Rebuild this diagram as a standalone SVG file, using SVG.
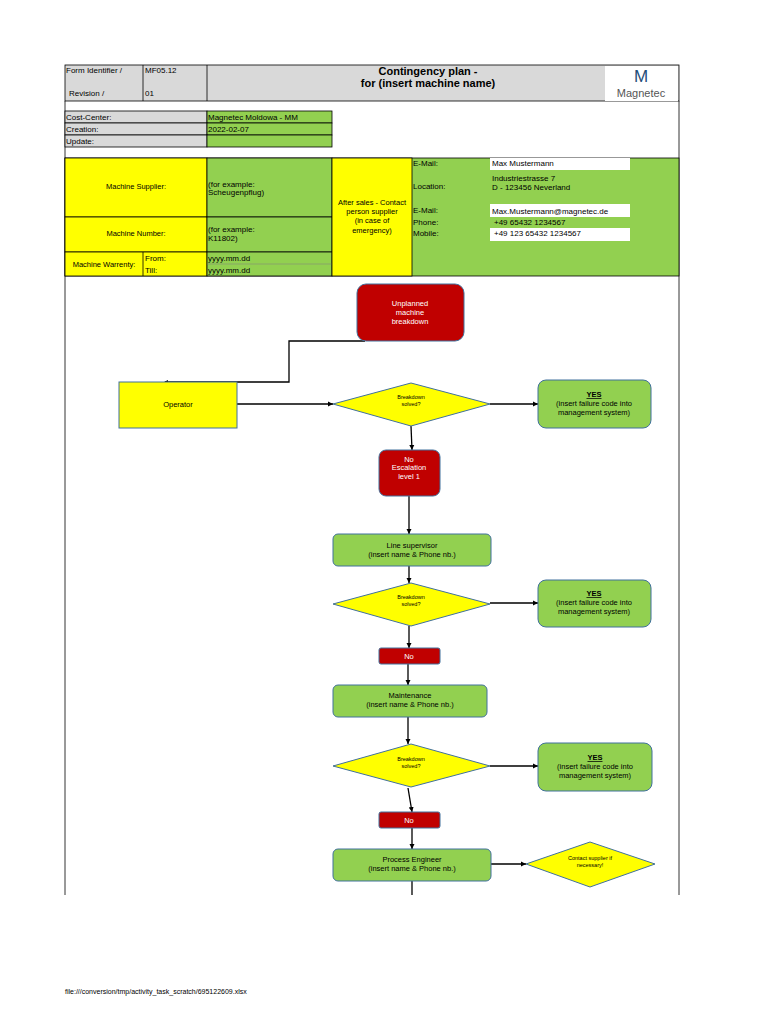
<svg xmlns="http://www.w3.org/2000/svg" width="768" height="1024" viewBox="0 0 768 1024">
<style>
text{font-family:"Liberation Sans",Arial,sans-serif;fill:#000}
.t{font-size:8px}
.s{font-size:5.5px}
.m{font-size:7.5px;text-anchor:middle}
.w{fill:#fff}
.cell{stroke:#000;stroke-width:0.8}
.g{fill:#92d050}.y{fill:#ffff00}.gr{fill:#d9d9d9}
.node{stroke:#41719c;stroke-width:1}
.red{fill:#c00000}
.c{stroke:#000;stroke-width:1.3;fill:none}
</style>
<defs><marker id="a" markerWidth="6" markerHeight="6" refX="5" refY="3" orient="auto" markerUnits="userSpaceOnUse"><path d="M0,0.5 L5,3 L0,5.5 z" fill="#000"/></marker></defs>
<rect width="768" height="1024" fill="#fff"/>
<g id="header">
<rect x="65" y="65" width="614" height="36" class="gr cell"/>
<line x1="143" y1="65" x2="143" y2="101" class="cell"/>
<line x1="207" y1="65" x2="207" y2="101" class="cell"/>
<rect x="605" y="66" width="73" height="35" fill="#fff"/>
<text x="66" y="73" class="t">Form Identifier /</text>
<text x="69" y="96" class="t">Revision  /</text>
<text x="145" y="73" class="t">MF05.12</text>
<text x="145" y="96" class="t">01</text>
<text x="428" y="75" text-anchor="middle" style="font-size:11px;font-weight:bold">Contingency plan -</text>
<text x="428" y="87" text-anchor="middle" style="font-size:11px;font-weight:bold">for (insert machine name)</text>
<text x="641" y="82" text-anchor="middle" style="font-size:17px;fill:#1f4e79">M</text>
<text x="641" y="97" text-anchor="middle" style="font-size:11px;fill:#555">Magnetec</text>
</g>
<line x1="65" y1="101" x2="65" y2="895" class="cell"/>
<line x1="679" y1="101" x2="679" y2="895" class="cell"/>
<g id="costtable">
<rect x="65" y="111" width="142" height="12" class="gr cell"/><rect x="207" y="111" width="125" height="12" class="g cell"/>
<rect x="65" y="123" width="142" height="12" class="gr cell"/><rect x="207" y="123" width="125" height="12" class="g cell"/>
<rect x="65" y="135" width="142" height="12" class="gr cell"/><rect x="207" y="135" width="125" height="12" class="g cell"/>
<text x="66" y="120" class="t">Cost-Center:</text><text x="208" y="120" class="t">Magnetec Moldowa - MM</text>
<text x="66" y="132" class="t">Creation:</text><text x="208" y="132" class="t">2022-02-07</text>
<text x="66" y="144" class="t">Update:</text>
</g>
<g id="supplier">
<rect x="65" y="158" width="614" height="118" class="g cell"/>
<rect x="65" y="158" width="142" height="59" class="y cell"/>
<rect x="65" y="217" width="142" height="35" class="y cell"/>
<rect x="65" y="252" width="142" height="24" class="y cell"/>
<line x1="143" y1="252" x2="143" y2="276" class="cell"/>
<rect x="207" y="158" width="125" height="59" class="g cell"/>
<rect x="207" y="217" width="125" height="35" class="g cell"/>
<rect x="207" y="252" width="125" height="24" class="g cell"/>
<line x1="207" y1="264" x2="332" y2="264" stroke="#7f7f7f" stroke-width="0.5"/>
<rect x="332" y="158" width="80" height="118" class="y cell"/>
<rect x="490" y="158" width="140" height="12" fill="#fff"/>
<rect x="490" y="204" width="140" height="13" fill="#fff"/>
<rect x="490" y="228" width="140" height="13" fill="#fff"/>
<text x="136" y="189" class="m">Machine Supplier:</text>
<text x="136" y="236" class="m">Machine Number:</text>
<text x="104" y="267" class="m">Machine Warrenty:</text>
<text x="145" y="261" class="t">From:</text><text x="145" y="273" class="t">Till:</text>
<text x="208" y="187" class="t">(for example:</text><text x="208" y="195" class="t">Scheugenpflug)</text>
<text x="208" y="232" class="t">(for example:</text><text x="208" y="241" class="t">K11802)</text>
<text x="208" y="261" class="t">yyyy.mm.dd</text><text x="208" y="273" class="t">yyyy.mm.dd</text>
<text x="372" y="205" class="m">After sales - Contact</text>
<text x="372" y="214" class="m">person supplier</text>
<text x="372" y="223" class="m">(in case of</text>
<text x="372" y="233" class="m">emergency)</text>
<text x="413" y="166" class="t">E-Mail:</text>
<text x="413" y="189" class="t">Location:</text>
<text x="413" y="213" class="t">E-Mail:</text>
<text x="413" y="225" class="t">Phone:</text>
<text x="413" y="236" class="t">Mobile:</text>
<text x="492" y="166" class="t">Max Mustermann</text>
<text x="492" y="181" class="t">Industriestrasse 7</text>
<text x="492" y="190" class="t">D - 123456 Neverland</text>
<text x="492" y="214" class="t">Max.Mustermann@magnetec.de</text>
<text x="494" y="225" class="t">+49 65432 1234567</text>
<text x="494" y="236" class="t">+49 123 65432 1234567</text>
</g>
<g id="connectors">
<polyline points="365,341 289,341 289,382 165,382" class="c"/>
<path d="M168,380 L164,382 L168,383 z" fill="#000"/>
<line x1="237" y1="404" x2="333" y2="404" class="c" marker-end="url(#a)"/>
<line x1="490" y1="404" x2="538" y2="404" class="c" marker-end="url(#a)"/>
<line x1="411" y1="426" x2="412" y2="450" class="c" marker-end="url(#a)"/>
<line x1="409" y1="496" x2="409" y2="534" class="c" marker-end="url(#a)"/>
<line x1="409" y1="566" x2="409" y2="583" class="c" marker-end="url(#a)"/>
<line x1="490" y1="603" x2="538" y2="603" class="c" marker-end="url(#a)"/>
<line x1="409" y1="626" x2="409" y2="648" class="c" marker-end="url(#a)"/>
<line x1="408" y1="664" x2="408" y2="685" class="c" marker-end="url(#a)"/>
<line x1="408" y1="717" x2="408" y2="744" class="c" marker-end="url(#a)"/>
<line x1="490" y1="766" x2="538" y2="766" class="c" marker-end="url(#a)"/>
<line x1="408" y1="788" x2="412" y2="812" class="c" marker-end="url(#a)"/>
<line x1="412" y1="828" x2="412" y2="849" class="c" marker-end="url(#a)"/>
<line x1="491" y1="864" x2="526" y2="864" class="c" marker-end="url(#a)"/>
<line x1="412" y1="881" x2="412" y2="895" class="c"/>
</g>
<g id="unplanned"><rect x="357" y="284" width="107" height="57" rx="9" class="red node"/>
<text x="410" y="306" class="m w">Unplanned</text><text x="410" y="315" class="m w">machine</text><text x="410" y="324" class="m w">breakdown</text></g>
<g id="operator"><rect x="119" y="382" width="118" height="46" class="y node"/><text x="178" y="407" class="m">Operator</text></g>
<g id="dec1"><polygon points="333,404 411,383 490,404 411,426" class="y node"/><text x="411" y="399" class="s" text-anchor="middle">Breakdown</text><text x="411" y="406" class="s" text-anchor="middle">solved?</text></g>
<g id="yes1"><rect x="538" y="380" width="113" height="48" rx="8" class="g node"/><text x="594" y="397" class="m" text-decoration="underline" font-weight="bold">YES</text><text x="594" y="406" class="m">(insert failure code into</text><text x="594" y="415" class="m">management system)</text></g>
<g id="no1"><rect x="379" y="450" width="61" height="46" rx="7" class="red node"/><text x="409" y="462" class="m w">No</text><text x="409" y="470" class="m w">Escalation</text><text x="409" y="479" class="m w">level 1</text></g>
<g id="line"><rect x="333" y="534" width="158" height="32" rx="5" class="g node"/><text x="412" y="548" class="m">Line supervisor</text><text x="412" y="557" class="m">(insert name &amp; Phone nb.)</text></g>
<g id="dec2"><polygon points="333,604 411,583 490,604 411,626" class="y node"/><text x="411" y="599" class="s" text-anchor="middle">Breakdown</text><text x="411" y="606" class="s" text-anchor="middle">solved?</text></g>
<g id="yes2"><rect x="538" y="580" width="113" height="47" rx="8" class="g node"/><text x="594" y="596" class="m" text-decoration="underline" font-weight="bold">YES</text><text x="594" y="605" class="m">(insert failure code into</text><text x="594" y="614" class="m">management system)</text></g>
<g id="no2"><rect x="379" y="648" width="61" height="16" rx="2" class="red node"/><text x="409" y="659" class="m w">No</text></g>
<g id="maint"><rect x="333" y="685" width="154" height="32" rx="5" class="g node"/><text x="410" y="698" class="m">Maintenance</text><text x="410" y="707" class="m">(insert name &amp; Phone nb.)</text></g>
<g id="dec3"><polygon points="333,766 411,744 490,766 411,787" class="y node"/><text x="411" y="761" class="s" text-anchor="middle">Breakdown</text><text x="411" y="768" class="s" text-anchor="middle">solved?</text></g>
<g id="yes3"><rect x="538" y="743" width="114" height="48" rx="8" class="g node"/><text x="595" y="760" class="m" text-decoration="underline" font-weight="bold">YES</text><text x="595" y="769" class="m">(insert failure code into</text><text x="595" y="778" class="m">management system)</text></g>
<g id="no3"><rect x="379" y="812" width="61" height="16" rx="2" class="red node"/><text x="409" y="823" class="m w">No</text></g>
<g id="pe"><rect x="333" y="849" width="158" height="32" rx="5" class="g node"/><text x="412" y="862" class="m">Process Engineer</text><text x="412" y="871" class="m">(insert name &amp; Phone nb.)</text></g>
<g id="contact"><polygon points="526,864 590,842 655,864 590,887" class="y node"/><text x="590" y="860" class="s" text-anchor="middle">Contact supplier if</text><text x="590" y="867" class="s" text-anchor="middle">necessary!</text></g>
<text x="65" y="994" style="font-size:7px">file:///conversion/tmp/activity_task_scratch/695122609.xlsx</text>
</svg>
